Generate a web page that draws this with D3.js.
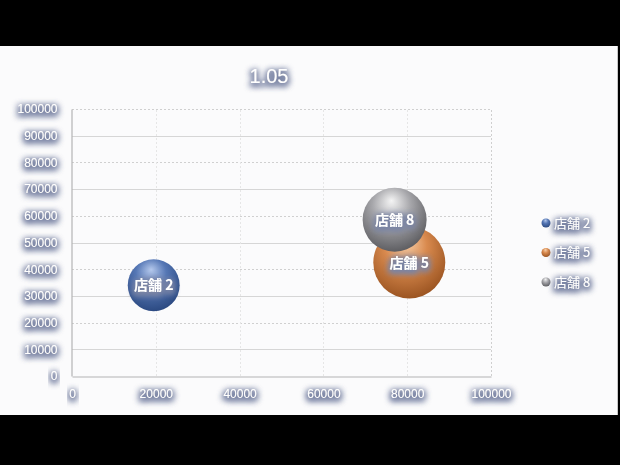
<!DOCTYPE html>
<html>
<head>
<meta charset="utf-8">
<script src="https://cdn.jsdelivr.net/npm/d3@7"></script>
<style>
  body { margin: 0; background: #000; }
  svg { display: block; }
  text { font-family: "Liberation Sans", "Noto Sans CJK JP", sans-serif; }
</style>
</head>
<body>
<svg width="620" height="465"></svg>
<script>
// chart values
const stores = ["店舗 2", "店舗 5", "店舗 8"];
const xValues = [19500, 80500, 77000];
const yValues = [34000, 42500, 58500];
const sizes = [26000, 50000, 39500];
const title = "1.05";
const xTicks = [0, 20000, 40000, 60000, 80000, 100000];
const yTicks = [0, 10000, 20000, 30000, 40000, 50000, 60000, 70000, 80000, 90000, 100000];

const palette = [
  { hi: "#b4c8ec", mid: "#5577b5", lo: "#2c4a82" },
  { hi: "#f8d2ae", mid: "#d98a4e", lo: "#9c5522" },
  { hi: "#f4f4f4", mid: "#a8a8ac", lo: "#5e5e62" }
];

const svg = d3.select("svg");
const defs = svg.append("defs");

// glow behind the white texts
const glow = defs.append("filter").attr("id", "glow")
  .attr("x", "-30%").attr("y", "-70%").attr("width", "160%").attr("height", "240%");
glow.append("feMorphology").attr("in", "SourceAlpha").attr("operator", "dilate").attr("radius", 1).attr("result", "d");
glow.append("feGaussianBlur").attr("in", "d").attr("stdDeviation", 3.2).attr("result", "b");
glow.append("feFlood").attr("flood-color", "#7a84a4").attr("flood-opacity", 1);
glow.append("feComposite").attr("in2", "b").attr("operator", "in").attr("result", "s");
glow.append("feOffset").attr("dy", 2).attr("result", "so");
const gm = glow.append("feMerge");
gm.append("feMergeNode").attr("in", "so");
gm.append("feMergeNode").attr("in", "so");
gm.append("feMergeNode").attr("in", "SourceGraphic");

palette.forEach((c, i) => {
  const g = defs.append("radialGradient").attr("id", "ball" + i)
    .attr("cx", "45%").attr("cy", "35%").attr("r", "65%").attr("fx", "45%").attr("fy", "20%");
  g.append("stop").attr("offset", "0%").attr("stop-color", c.hi);
  g.append("stop").attr("offset", "45%").attr("stop-color", c.mid);
  g.append("stop").attr("offset", "100%").attr("stop-color", c.lo);
});

// chart panel
svg.append("rect").attr("x", 0).attr("y", 46).attr("width", 618).attr("height", 369).attr("fill", "#fbfbfc");
svg.append("line").attr("x1", 617.5).attr("x2", 617.5).attr("y1", 46).attr("y2", 415).attr("stroke", "#c8c8c8");

const x = d3.scaleLinear().domain([0, 100000]).range([72, 491]);
const y = d3.scaleLinear().domain([0, 100000]).range([376, 109]);
const r = d3.scaleSqrt().domain([0, d3.max(sizes)]).range([0, 36]);

// grid
svg.append("g").selectAll("line").data(yTicks.slice(1)).join("line")
  .attr("x1", x(0)).attr("x2", x(100000))
  .attr("y1", d => Math.round(y(d)) + 0.5).attr("y2", d => Math.round(y(d)) + 0.5)
  .attr("stroke", d => d % 20000 ? "#d6d6d6" : "#d0d0d0")
  .attr("stroke-dasharray", d => d % 20000 ? null : "2,2");
svg.append("g").selectAll("line").data(xTicks.slice(1)).join("line")
  .attr("y1", y(0)).attr("y2", y(100000))
  .attr("x1", d => Math.round(x(d)) + 0.5).attr("x2", d => Math.round(x(d)) + 0.5)
  .attr("stroke", d => d === 100000 ? "#cfcfcf" : "#e6e6e6")
  .attr("stroke-dasharray", "2,2");

// axes
const xAxis = svg.append("g").attr("transform", `translate(0,${y(0) + 0.5})`)
  .call(d3.axisBottom(x).tickValues(xTicks).tickSize(0).tickPadding(13).tickFormat(d3.format("d")));
const yAxis = svg.append("g").attr("transform", `translate(${x(0) - 0.5},0)`)
  .call(d3.axisLeft(y).tickValues(yTicks).tickSize(0).tickPadding(14).tickFormat(d3.format("d")));
[xAxis, yAxis].forEach(a => {
  a.select(".domain").attr("stroke", "#b4b4b4").attr("stroke-width", 1.2);
  a.selectAll("text").attr("fill", "#fff").attr("font-size", 12).attr("filter", "url(#glow)")
    .style("font-family", "Liberation Sans, sans-serif");
});

// title
svg.append("text").attr("x", 269).attr("y", 83).attr("text-anchor", "middle")
  .attr("font-size", 20).attr("fill", "#fff").attr("filter", "url(#glow)").text(title);

// bubbles
const data = stores.map((s, i) => ({ name: s, x: xValues[i], y: yValues[i], size: sizes[i], i }));
const bub = svg.append("g").selectAll("g").data(data).join("g")
  .attr("transform", d => `translate(${x(d.x)},${y(d.y)})`);
bub.append("circle").attr("r", d => r(d.size)).attr("fill", d => `url(#ball${d.i})`);
bub.append("text").attr("text-anchor", "middle").attr("dy", "0.36em")
  .attr("font-size", 14).attr("font-weight", "bold").attr("fill", "#fff")
  .attr("filter", "url(#glow)")
  .style("font-family", "Noto Sans CJK JP, sans-serif")
  .text(d => d.name);

// legend
const leg = svg.append("g").selectAll("g").data(data).join("g")
  .attr("transform", (d, i) => `translate(546,${223 + i * 29.5})`);
leg.append("circle").attr("r", 4.5).attr("fill", d => `url(#ball${d.i})`);
leg.append("text").attr("x", 8).attr("dy", "0.36em").attr("font-size", 13)
  .attr("fill", "#fff").attr("filter", "url(#glow)")
  .style("font-family", "Noto Sans CJK JP, sans-serif")
  .text(d => d.name);
</script>
</body>
</html>
